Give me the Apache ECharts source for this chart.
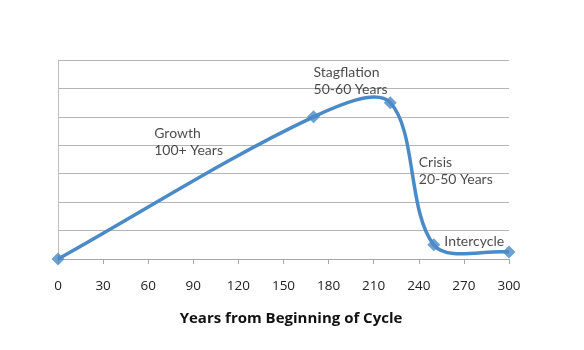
<!DOCTYPE html>
<html><head><meta charset="utf-8">
<script src="https://cdn.jsdelivr.net/npm/echarts@6/dist/echarts.min.js"></script>
<style>html,body{margin:0;padding:0;background:#fff}#c{width:584px;height:350px}</style>
</head><body><div id="c"></div>
<script>
var xValues = [0, 170, 221, 250, 300];
var yValues = [0, 5, 5.5, 0.5, 0.25];
var xTicks = [0, 30, 60, 90, 120, 150, 180, 210, 240, 270, 300];
var annotationText = ['Growth\n100+ Years', 'Stagflation\n50-60 Years', 'Crisis\n20-50 Years', 'Intercycle'];
var annotationX = [64, 170, 240, 257];
var annotationY = [4.72, 6.87, 3.68, 0.93];
var xTitle = 'Years from Beginning of Cycle';

var lineColor = '#4a8ac6';

// Excel-style smoothed path (length-weighted Catmull-Rom bezier) through the pixel coords
function smoothPath(pts) {
  function d(a, b) { return Math.hypot(b[0] - a[0], b[1] - a[1]); }
  var n = pts.length, s = 'M' + pts[0][0] + ' ' + pts[0][1];
  for (var i = 0; i < n - 1; i++) {
    var p0 = pts[i - 1] || pts[i], p1 = pts[i], p2 = pts[i + 1], p3 = pts[i + 2] || pts[i + 1];
    var d01 = d(p0, p1), d12 = d(p1, p2), d23 = d(p2, p3);
    var f1 = d12 / ((d01 + d12) || 1) / 3, f2 = d12 / ((d12 + d23) || 1) / 3;
    if (i === 0) { p0 = p1; f1 = 1 / 3; }
    if (i === n - 2) { p3 = p2; f2 = 1 / 3; }
    var c1 = i === 0 ? [p1[0] + (p2[0] - p1[0]) * f1, p1[1] + (p2[1] - p1[1]) * f1]
                     : [p1[0] + (p2[0] - p0[0]) * f1, p1[1] + (p2[1] - p0[1]) * f1];
    var c2 = i === n - 2 ? [p2[0] - (p2[0] - p1[0]) * f2, p2[1] - (p2[1] - p1[1]) * f2]
                         : [p2[0] - (p3[0] - p1[0]) * f2, p2[1] - (p3[1] - p1[1]) * f2];
    s += ' C' + c1[0] + ' ' + c1[1] + ' ' + c2[0] + ' ' + c2[1] + ' ' + p2[0] + ' ' + p2[1];
  }
  return s;
}

var chart = echarts.init(document.getElementById('c'));
chart.setOption({
  animation: false,
  grid: {left: 58, right: 75, top: 60, bottom: 91},
  xAxis: {
    type: 'value', min: 0, max: 300, interval: 30,
    name: xTitle, nameLocation: 'middle', nameGap: 52,
    nameTextStyle: {fontFamily: 'Open Sans', fontWeight: 'bold', fontSize: 15, color: '#111', padding: [0, 0, 0, 15]},
    axisLine: {lineStyle: {color: '#a6a6a6', width: 1}},
    axisTick: {show: true, length: 5, lineStyle: {color: '#a6a6a6'}},
    axisLabel: {margin: 20, fontFamily: 'Open Sans', fontSize: 13.5, color: '#222'},
    splitLine: {show: false}
  },
  yAxis: {
    type: 'value', min: 0, max: 7, interval: 1,
    axisLine: {show: true, lineStyle: {color: '#bdbdbd'}},
    axisTick: {show: false},
    axisLabel: {show: false},
    splitLine: {lineStyle: {color: '#b5b5b5', width: 1}}
  },
  series: [{
    type: 'custom',
    silent: true,
    data: [[xValues[0], yValues[0]]],
    renderItem: function (params, api) {
      var pts = xValues.map(function (x, i) { return api.coord([x, yValues[i]]); });
      return {
        type: 'path',
        shape: {pathData: smoothPath(pts)},
        style: {fill: null, stroke: lineColor, lineWidth: 3.5, lineJoin: 'round'}
      };
    },
    z: 3
  }, {
    type: 'scatter',
    data: xValues.map(function (x, i) { return [x, yValues[i]]; }),
    symbol: 'diamond', symbolSize: 13,
    itemStyle: {color: lineColor},
    z: 4
  }, {
    type: 'scatter',
    symbol: 'circle', symbolSize: 1,
    itemStyle: {color: 'rgba(0,0,0,0)'},
    silent: true,
    data: annotationText.map(function (t, i) { return {value: [annotationX[i], annotationY[i]], name: t}; }),
    label: {
      show: true, position: 'inside', align: 'left', verticalAlign: 'top',
      formatter: function (p) { return p.name; },
      fontFamily: 'Lato', fontSize: 14, lineHeight: 17, color: '#1a1a1a'
    },
    z: 5
  }]
});
</script></body></html>
